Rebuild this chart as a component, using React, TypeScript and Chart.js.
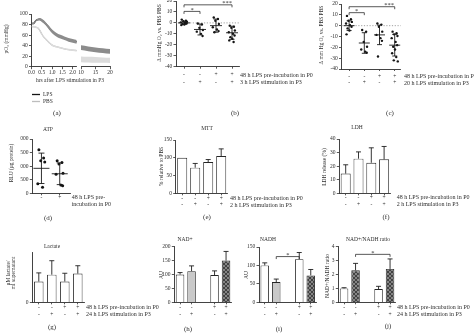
import React, { useEffect, useRef } from "react";
import { Chart, registerables } from "chart.js";

Chart.register(...registerables);

const W = 474;
const H = 334;
const FONT = '"Liberation Serif", "DejaVu Serif", serif';
const INK = "#2e2e2e";
Chart.defaults.font.family = FONT;
Chart.defaults.color = INK;

// ---------------- data ----------------
// (a) pO2 course
const A_T_EARLY = [0, 0.1, 0.2, 0.3, 0.4, 0.5, 0.6, 0.7, 0.85, 1.0, 1.2, 1.4, 1.6, 1.8, 2.0, 2.2];
const A_LPS_EARLY = [82, 82, 87, 89.5, 90, 88, 85, 81, 74, 67, 61, 57, 54, 51, 49, 47];
const A_LPS_EARLY_SD = [1.5, 1.5, 1.5, 2, 2.5, 3, 3, 3, 3.5, 3.5, 3.5, 3.5, 3.5, 3.5, 3.5, 3.5];
const A_PBS_EARLY = [76, 76, 75, 74, 69, 62, 56, 52, 46, 41, 38, 36, 34, 32.5, 31.5, 30.5];
const A_PBS_EARLY_SD = [1.5, 1.5, 1.5, 1.5, 1.5, 1.5, 1.5, 1.5, 1.5, 1.5, 1.5, 1.5, 1.5, 1.5, 1.5, 1.5];
const A_T_LATE = [10, 12.5, 15, 17.5, 20];
const A_LPS_LATE = [36, 34, 32, 30.5, 29];
const A_LPS_LATE_SD = [4.5, 4.5, 4.5, 4.5, 4.5];
const A_PBS_LATE = [14, 13.5, 13, 12.5, 12];
const A_PBS_LATE_SD = [5.5, 5.5, 5.5, 5, 5];
const A_X_TICKS_EARLY = [0, 0.5, 1, 1.5, 2];
const A_X_TICKS_LATE = [10, 15, 20];

// (b) 3 h stimulation
const B_G1 = [3, 2, 1.5, 1, 0.5, 0, -0.5, -1, -1.5, -2];
const B_G2 = [-0.5, -1.5, -4.5, -6.5, -8, -10, -12];
const B_G3 = [5, 3.5, 2, -1, -4, -6, -7.5, -8.5];
const B_G4 = [-2.5, -3.5, -4.5, -7, -8.5, -10, -11.5, -13, -14.5, -16, -17.5];
const B_MEAN = [0, -6, -2.5, -9];
const B_SD = [1.5, 5, 6, 6];

// (c) 20 h stimulation
const C_G1 = [9, 6, 4.5, 3.5, 2, 0.5, -1, -2.5, -4.5, -8];
const C_G2 = [-4, -5.5, -15, -19.5, -22, -24, -25];
const C_G3 = [2, 1, -1, -5.5, -8.5, -11.5, -14, -28.5];
const C_G4 = [-5.5, -7, -8, -9.5, -11.5, -15, -18, -19.5, -22, -25.5, -29, -32, -33];
const C_MEAN = [0, -16, -8.5, -18];
const C_SD = [4.5, 9.5, 9, 10];

// (d) ATP
const D_G1 = [1600, 1300, 1200, 1150, 350, 220];
const D_G2 = [1200, 1130, 1080, 740, 700, 310, 280];
const D_MEAN = [920, 720];
const D_SD = [560, 400];

// (e) MTT, (f) LDH, (g) Lactate
const E_VAL = [100, 72, 88, 105];
const E_SD = [0, 12, 7, 20];
const F_VAL = [14.5, 25.5, 22.5, 25];
const F_SD = [6.5, 5, 11, 9.5];
const G_VAL = [2900, 3850, 2900, 4000];
const G_SD = [1200, 1950, 1150, 1100];

// (h) NAD+, (i) NADH, (j) ratio
const H_VAL = [100, 112, 98, 150];
const H_SD = [7, 19, 15, 33];
const I_VAL = [100, 55, 117, 73];
const I_SD = [7, 8, 18, 16];
const J_VAL = [1.0, 2.3, 0.95, 2.4];
const J_SD = [0.05, 0.5, 0.2, 0.72];

// significance brackets (group indices, value level, label)
const B_BRACKETS = [
  { a: 0, b: 1, v: 10.5, label: "*" },
  { a: 0, b: 3, v: 16.5, label: "***", at: 0.9 },
];
const C_BRACKETS = [
  { a: 0, b: 1, v: 12, label: "*" },
  { a: 0, b: 3, v: 17.5, label: "***", at: 0.88 },
];
const I_BRACKETS = [{ a: 1, b: 2, v: 124, label: "*" }];
const J_BRACKETS = [{ a: 1, b: 3, v: 3.45, label: "*" }];

const PRE = ["-", "-", "+", "+"];
const STIM = ["-", "+", "-", "+"];
const ROW_PRE = "48 h LPS pre-incubation in P0";

const JITTER = [-0.14, 0.12, -0.04, 0.18, -0.2, 0.06, 0.16, -0.1, 0.02, -0.17, 0.1, -0.06, 0.2];

// ---------------- helpers ----------------
type Rect = { x0: number; y0: number; x1: number; y1: number };
type TextItem = {
  s: string; x: number; y: number; size?: number; align?: CanvasTextAlign;
  rot?: boolean; base?: CanvasTextBaseline; color?: string;
};
type Bracket = { a: number; b: number; v: number; label: string; at?: number };

function txt(ctx: CanvasRenderingContext2D, t: TextItem) {
  ctx.save();
  ctx.font = `${t.size ?? 5.5}px ${FONT}`;
  ctx.fillStyle = t.color ?? INK;
  ctx.textAlign = t.align ?? "center";
  ctx.textBaseline = t.base ?? "middle";
  ctx.translate(t.x, t.y);
  if (t.rot) ctx.rotate(-Math.PI / 2);
  ctx.fillText(t.s, 0, 0);
  ctx.restore();
}

function seg(ctx: CanvasRenderingContext2D, x1: number, y1: number, x2: number, y2: number, color = INK, w = 0.85) {
  ctx.save();
  ctx.strokeStyle = color;
  ctx.lineWidth = w;
  ctx.beginPath();
  ctx.moveTo(x1, y1);
  ctx.lineTo(x2, y2);
  ctx.stroke();
  ctx.restore();
}

function drawBracket(ctx: CanvasRenderingContext2D, xa: number, xb: number, y: number, label: string, at = 0.5) {
  ctx.save();
  ctx.strokeStyle = INK;
  ctx.lineWidth = 0.8;
  ctx.beginPath();
  ctx.moveTo(xa, y + 2.5);
  ctx.lineTo(xa, y);
  ctx.lineTo(xb, y);
  ctx.lineTo(xb, y + 2.5);
  ctx.stroke();
  ctx.restore();
  txt(ctx, { s: label, x: xa + (xb - xa) * at, y: y + 0.2, size: 6.5, base: "alphabetic" });
}

function drawSigns(ctx: CanvasRenderingContext2D, xs: number[], rows: string[][], ys: number[]) {
  rows.forEach((row, r) =>
    row.forEach((s, i) => {
      if (s) txt(ctx, { s, x: xs[i], y: ys[r], size: 5.5 });
    })
  );
}

function zeroPad(s: any) {
  s.paddingTop = 0;
  s.paddingBottom = 0;
  s.paddingLeft = 0;
  s.paddingRight = 0;
}

function baseOptions(r: Rect, yW: number, xH: number, scales: any) {
  return {
    animation: false,
    responsive: false,
    maintainAspectRatio: false,
    events: [],
    layout: {
      autoPadding: false,
      padding: { left: r.x0 - yW, top: r.y0, right: W - r.x1, bottom: H - r.y1 - xH },
    },
    plugins: { legend: { display: false }, tooltip: { enabled: false }, title: { display: false } },
    scales,
  };
}

function yAxis(min: number, max: number, step: number, yW: number) {
  return {
    type: "linear",
    position: "left",
    min,
    max,
    afterFit: (s: any) => {
      s.width = yW;
      zeroPad(s);
    },
    afterBuildTicks: (s: any) => {
      s.ticks = s.ticks.filter((t: any) => Math.abs(t.value / step - Math.round(t.value / step)) < 1e-6);
    },
    ticks: {
      stepSize: step,
      autoSkip: false,
      padding: 1.2,
      color: INK,
      font: { family: FONT, size: 5.5 },
      callback: (v: any) => String(v),
    },
    grid: { drawOnChartArea: false, drawTicks: true, tickLength: 2.5, color: INK, lineWidth: 0.8 },
    border: { display: true, color: INK, width: 0.9 },
  };
}

function xLinearGroups(min: number, max: number, xH: number, at: number[]) {
  return {
    type: "linear",
    position: "bottom",
    min,
    max,
    afterFit: (s: any) => {
      s.height = xH;
      zeroPad(s);
    },
    afterBuildTicks: (s: any) => {
      s.ticks = at.map((v) => ({ value: v }));
    },
    ticks: { display: false },
    grid: { drawOnChartArea: false, drawTicks: true, tickLength: 2, color: INK, lineWidth: 0.8 },
    border: { display: true, color: INK, width: 0.9 },
  };
}

function xCats(xH: number, skip: number[]) {
  return {
    type: "category",
    position: "bottom",
    offset: true,
    afterFit: (s: any) => {
      s.height = xH;
      zeroPad(s);
    },
    afterBuildTicks: (s: any) => {
      s.ticks = s.ticks.filter((t: any) => !skip.includes(t.value));
    },
    ticks: { display: false },
    grid: { offset: false, drawOnChartArea: false, drawTicks: true, tickLength: 2, color: INK, lineWidth: 0.8 },
    border: { display: true, color: INK, width: 0.9 },
  };
}

function hatchPattern(): CanvasPattern | string {
  const c = document.createElement("canvas");
  c.width = 4;
  c.height = 4;
  const g = c.getContext("2d");
  if (!g) return "#777";
  g.fillStyle = "#858585";
  g.fillRect(0, 0, 4, 4);
  g.strokeStyle = "#3a3a3a";
  g.lineWidth = 0.9;
  g.beginPath();
  g.moveTo(0, 0);
  g.lineTo(4, 4);
  g.moveTo(4, 0);
  g.lineTo(0, 4);
  g.stroke();
  return g.createPattern(c, "repeat") || "#777";
}

// ---------------- panel (a) ----------------
function aDatasets(t: number[], lps: number[], lpsSd: number[], pbs: number[], pbsSd: number[]) {
  const pts = (m: number[], sd: number[] | null, s: number) =>
    t.map((x, i) => ({ x, y: m[i] + (sd ? s * sd[i] : 0) }));
  const common = { pointRadius: 0, cubicInterpolationMode: "monotone", tension: 0.3 };
  const none = "rgba(0,0,0,0)";
  return [
    { ...common, data: pts(pbs, pbsSd, 1), borderWidth: 0, borderColor: none, fill: false },
    { ...common, data: pts(pbs, pbsSd, -1), borderWidth: 0, borderColor: none, fill: "-1", backgroundColor: "#dcdcdc" },
    { ...common, data: pts(pbs, null, 0), borderColor: "#bdbdbd", borderWidth: 1.3, fill: false },
    { ...common, data: pts(lps, lpsSd, 1), borderWidth: 0, borderColor: none, fill: false },
    { ...common, data: pts(lps, lpsSd, -1), borderWidth: 0, borderColor: none, fill: "-1", backgroundColor: "#8c8c8c" },
    { ...common, data: pts(lps, null, 0), borderColor: "#141414", borderWidth: 1.3, fill: false },
  ];
}

function aXAxis(min: number, max: number, at: number[], fmt: (v: number) => string) {
  return {
    type: "linear",
    position: "bottom",
    min,
    max,
    afterFit: (s: any) => {
      s.height = 10;
      zeroPad(s);
    },
    afterBuildTicks: (s: any) => {
      s.ticks = at.map((v) => ({ value: v }));
    },
    ticks: {
      autoSkip: false,
      maxRotation: 0,
      minRotation: 0,
      padding: 0.5,
      color: INK,
      font: { family: FONT, size: 5.5 },
      callback: (v: any) => fmt(Number(v)),
    },
    grid: { drawOnChartArea: false, drawTicks: true, tickLength: 2.5, color: INK, lineWidth: 0.8 },
    border: { display: true, color: INK, width: 0.9 },
  };
}

function makeA1() {
  const r = { x0: 31.5, y0: 14, x1: 76.8, y1: 66.7 };
  return {
    type: "line",
    data: { datasets: aDatasets(A_T_EARLY, A_LPS_EARLY, A_LPS_EARLY_SD, A_PBS_EARLY, A_PBS_EARLY_SD) },
    options: baseOptions(r, 12, 10, {
      x: aXAxis(0, 2.2, A_X_TICKS_EARLY, (v) => v.toFixed(1)),
      y: yAxis(0, 100, 20, 12),
    }),
    plugins: [
      {
        id: "decoA",
        afterDraw(chart: any) {
          const ctx = chart.ctx;
          txt(ctx, { s: "pO₂ (mmHg)", x: 7, y: 39, rot: true });
          txt(ctx, { s: "hrs after LPS stimulation in P3", x: 70, y: 81 });
          seg(ctx, 32, 94.5, 40, 94.5, "#141414", 1.3);
          seg(ctx, 32, 101.5, 40, 101.5, "#bdbdbd", 1.3);
          txt(ctx, { s: "LPS", x: 43, y: 94.5, align: "left" });
          txt(ctx, { s: "PBS", x: 43, y: 101.5, align: "left" });
          txt(ctx, { s: "(a)", x: 57, y: 113, size: 7 });
        },
      },
    ],
  };
}

function makeA2() {
  const r = { x0: 81, y0: 14, x1: 110, y1: 66.7 };
  return {
    type: "line",
    data: { datasets: aDatasets(A_T_LATE, A_LPS_LATE, A_LPS_LATE_SD, A_PBS_LATE, A_PBS_LATE_SD) },
    options: baseOptions(r, 0, 10, {
      x: aXAxis(10, 20, A_X_TICKS_LATE, (v) => String(v)),
      y: { type: "linear", display: false, min: 0, max: 100 },
    }),
  };
}

// ---------------- scatter panels ----------------
type ScatterSpec = {
  rect: Rect; y: [number, number, number]; xMax: number;
  groups: number[][]; means: number[]; sds: number[];
  radius: number; meanHalf: number; capHalf: number; zero?: boolean;
  brackets?: Bracket[]; signs: string[][]; signYs: number[]; texts: TextItem[];
};

function makeScatter(sp: ScatterSpec) {
  return () => {
    const pts = sp.groups.flatMap((g, gi) =>
      g.map((v, k) => ({ x: gi + 1 + JITTER[k % JITTER.length], y: v }))
    );
    const cats = sp.groups.map((_, i) => i + 1);
    return {
      type: "scatter",
      data: {
        datasets: [
          { data: pts, pointRadius: sp.radius, pointBackgroundColor: "#141414", pointBorderWidth: 0, pointBorderColor: "#141414" },
        ],
      },
      options: baseOptions(sp.rect, 12, 3, {
        x: xLinearGroups(0.5, sp.xMax, 3, cats),
        y: yAxis(sp.y[0], sp.y[1], sp.y[2], 12),
      }),
      plugins: [
        {
          id: "decoS",
          beforeDatasetsDraw(chart: any) {
            if (!sp.zero) return;
            const { ctx, chartArea: ca, scales } = chart;
            const y0 = scales.y.getPixelForValue(0);
            ctx.save();
            ctx.setLineDash([1.2, 1.6]);
            ctx.strokeStyle = "#8a8a8a";
            ctx.lineWidth = 0.8;
            ctx.beginPath();
            ctx.moveTo(ca.left, y0);
            ctx.lineTo(ca.right, y0);
            ctx.stroke();
            ctx.restore();
          },
          afterDraw(chart: any) {
            const { ctx, scales } = chart;
            const xs = cats.map((c) => scales.x.getPixelForValue(c));
            sp.means.forEach((m, i) => {
              const x = xs[i];
              const ym = scales.y.getPixelForValue(m);
              const yh = scales.y.getPixelForValue(m + sp.sds[i]);
              const yl = scales.y.getPixelForValue(m - sp.sds[i]);
              seg(ctx, x - sp.meanHalf, ym, x + sp.meanHalf, ym, "#1a1a1a", 0.9);
              seg(ctx, x, yh, x, yl, "#1a1a1a", 0.9);
              seg(ctx, x - sp.capHalf, yh, x + sp.capHalf, yh, "#1a1a1a", 0.9);
              seg(ctx, x - sp.capHalf, yl, x + sp.capHalf, yl, "#1a1a1a", 0.9);
            });
            (sp.brackets || []).forEach((b) =>
              drawBracket(ctx, xs[b.a], xs[b.b], scales.y.getPixelForValue(b.v), b.label, b.at)
            );
            drawSigns(ctx, xs, sp.signs, sp.signYs);
            sp.texts.forEach((t) => txt(ctx, t));
          },
        },
      ],
    };
  };
}

const makeB = makeScatter({
  rect: { x0: 176, y0: 1, x1: 239.2, y1: 66.7 },
  y: [-40, 20, 10],
  xMax: 4.45,
  groups: [B_G1, B_G2, B_G3, B_G4],
  means: B_MEAN,
  sds: B_SD,
  radius: 1.2,
  meanHalf: 6,
  capHalf: 2.5,
  zero: true,
  brackets: B_BRACKETS,
  signs: [PRE, STIM],
  signYs: [75, 82.5],
  texts: [
    { s: "Δ mmHg O₂ vs. PBS PBS", x: 160, y: 33, rot: true },
    { s: ROW_PRE, x: 240, y: 75, align: "left", size: 6 },
    { s: "3 h LPS stimulation in P3", x: 240, y: 82.5, align: "left", size: 6 },
    { s: "(b)", x: 235, y: 113, size: 7 },
  ],
});

const makeC = makeScatter({
  rect: { x0: 341.5, y0: 4, x1: 400.8, y1: 69 },
  y: [-40, 20, 10],
  xMax: 4.4,
  groups: [C_G1, C_G2, C_G3, C_G4],
  means: C_MEAN,
  sds: C_SD,
  radius: 1.2,
  meanHalf: 5.5,
  capHalf: 2.5,
  zero: true,
  brackets: C_BRACKETS,
  signs: [PRE, STIM],
  signYs: [76.5, 83],
  texts: [
    { s: "Δ mm Hg O₂ vs. PBS PBS", x: 322, y: 35, rot: true },
    { s: ROW_PRE, x: 404, y: 76.5, align: "left", size: 6 },
    { s: "20 h LPS stimulation in P3", x: 404, y: 83, align: "left", size: 6 },
    { s: "(c)", x: 390, y: 113, size: 7 },
  ],
});

const makeD = makeScatter({
  rect: { x0: 32.3, y0: 139, x1: 70.7, y1: 193.3 },
  y: [0, 2000, 500],
  xMax: 2.6,
  groups: [D_G1, D_G2],
  means: D_MEAN,
  sds: D_SD,
  radius: 1.5,
  meanHalf: 8,
  capHalf: 3,
  signs: [["-", "+"]],
  signYs: [198],
  texts: [
    { s: "ATP", x: 48, y: 130 },
    { s: "RLU (μg protein)", x: 11.7, y: 163, rot: true },
    { s: "48 h LPS pre-", x: 71.7, y: 197.5, align: "left", size: 6 },
    { s: "incubation in P0", x: 71.7, y: 204.2, align: "left", size: 6 },
    { s: "(d)", x: 48, y: 218, size: 7 },
  ],
});

// ---------------- bar panels ----------------
type FillKey = "white" | "gray" | "hatch";
type BarSpec = {
  rect: Rect; y: [number, number, number];
  values: number[]; sds: number[]; fills: FillKey[];
  gap?: boolean; catPct: number; brackets?: Bracket[];
  signs: string[][]; signYs: number[]; texts: TextItem[];
};

function makeBars(sp: BarSpec) {
  return () => {
    const hatch = hatchPattern();
    const expand = <T,>(arr: T[], filler: T): T[] => (sp.gap ? [...arr.slice(0, 2), filler, ...arr.slice(2)] : arr.slice());
    const idx = (i: number) => (sp.gap && i >= 2 ? i + 1 : i);
    const vals = expand<number | null>(sp.values, null);
    const sds = expand<number | null>(sp.sds, null);
    const colorOf = (k: FillKey | null) => (k === "gray" ? "#c9c9c9" : k === "hatch" ? hatch : "#ffffff");
    const fills = expand<FillKey | null>(sp.fills, null).map(colorOf);
    const signs = sp.signs.map((row) => expand(row, ""));
    const skip = sp.gap ? [2] : [];
    return {
      type: "bar",
      data: {
        labels: vals.map((_, i) => String(i)),
        datasets: [
          {
            data: vals,
            backgroundColor: fills,
            borderColor: "#262626",
            borderWidth: 0.9,
            categoryPercentage: sp.catPct,
            barPercentage: 1,
          },
        ],
      },
      options: baseOptions(sp.rect, 12, 3, {
        x: xCats(3, skip),
        y: yAxis(sp.y[0], sp.y[1], sp.y[2], 12),
      }),
      plugins: [
        {
          id: "decoB",
          afterDraw(chart: any) {
            const { ctx, scales } = chart;
            const xs = vals.map((_, i) => scales.x.getPixelForValue(i));
            vals.forEach((v, i) => {
              const sd = sds[i];
              if (v == null || sd == null || sd <= 0) return;
              const yt = scales.y.getPixelForValue(v);
              const ye = scales.y.getPixelForValue(v + sd);
              seg(ctx, xs[i], yt, xs[i], ye, "#1f1f1f", 0.9);
              seg(ctx, xs[i] - 2.5, ye, xs[i] + 2.5, ye, "#1f1f1f", 0.9);
            });
            (sp.brackets || []).forEach((b) =>
              drawBracket(ctx, xs[idx(b.a)], xs[idx(b.b)], scales.y.getPixelForValue(b.v), b.label, b.at)
            );
            drawSigns(ctx, xs, signs, sp.signYs);
            sp.texts.forEach((t) => txt(ctx, t));
          },
        },
      ],
    };
  };
}

const makeE = makeBars({
  rect: { x0: 175.7, y0: 140, x1: 227.7, y1: 193.3 },
  y: [0, 150, 50],
  values: E_VAL,
  sds: E_SD,
  fills: ["white", "white", "white", "white"],
  catPct: 0.77,
  signs: [PRE, STIM],
  signYs: [198.3, 205],
  texts: [
    { s: "MTT", x: 207, y: 129 },
    { s: "% relative to PBS", x: 161.7, y: 166.5, rot: true },
    { s: ROW_PRE, x: 230, y: 198.3, align: "left", size: 6 },
    { s: "2 h LPS stimulation in P3", x: 230, y: 205, align: "left", size: 6 },
    { s: "(e)", x: 207, y: 217, size: 7 },
  ],
});

const makeF = makeBars({
  rect: { x0: 339.3, y0: 139, x1: 390.5, y1: 193.3 },
  y: [0, 40, 10],
  values: F_VAL,
  sds: F_SD,
  fills: ["white", "white", "white", "white"],
  catPct: 0.78,
  signs: [PRE, STIM],
  signYs: [197.5, 204.2],
  texts: [
    { s: "LDH", x: 357, y: 128 },
    { s: "LDH release (%)", x: 325, y: 167, rot: true },
    { s: ROW_PRE, x: 396.7, y: 197.5, align: "left", size: 6 },
    { s: "2 h LPS stimulation in P3", x: 396.7, y: 204.2, align: "left", size: 6 },
    { s: "(f)", x: 386, y: 217, size: 7 },
  ],
});

const makeG = makeBars({
  rect: { x0: 32.3, y0: 252.1, x1: 84.3, y1: 302.3 },
  y: [0, 7000, 2000],
  values: G_VAL,
  sds: G_SD,
  fills: ["white", "white", "white", "white"],
  catPct: 0.73,
  signs: [PRE, STIM],
  signYs: [307.7, 314.3],
  texts: [
    { s: "Lactate", x: 52, y: 247 },
    { s: "μM lactate/", x: 8.3, y: 273, rot: true },
    { s: "ml supernatant", x: 14, y: 273, rot: true },
    { s: ROW_PRE, x: 86, y: 307.7, align: "left", size: 6 },
    { s: "24 h LPS stimulation in P3", x: 86, y: 314.3, align: "left", size: 6 },
    { s: "(g)", x: 52, y: 327, size: 7 },
  ],
});

const makeH = makeBars({
  rect: { x0: 174.3, y0: 246.7, x1: 231.8, y1: 302.3 },
  y: [0, 200, 50],
  values: H_VAL,
  sds: H_SD,
  fills: ["white", "gray", "white", "hatch"],
  gap: true,
  catPct: 0.74,
  signs: [PRE, STIM],
  signYs: [307.7, 314.3],
  texts: [
    { s: "NAD+", x: 185, y: 240 },
    { s: "AU", x: 161.7, y: 275, rot: true },
    { s: "(h)", x: 188, y: 329, size: 7 },
  ],
});

const makeI = makeBars({
  rect: { x0: 259, y0: 247, x1: 316.5, y1: 302.3 },
  y: [0, 150, 50],
  values: I_VAL,
  sds: I_SD,
  fills: ["white", "gray", "white", "hatch"],
  gap: true,
  catPct: 0.74,
  brackets: I_BRACKETS,
  signs: [PRE, STIM],
  signYs: [307.7, 314.3],
  texts: [
    { s: "NADH", x: 268, y: 240 },
    { s: "AU", x: 246.7, y: 275, rot: true },
    { s: "(i)", x: 279, y: 329, size: 7 },
  ],
});

const makeJ = makeBars({
  rect: { x0: 338.3, y0: 246.7, x1: 395.8, y1: 302.3 },
  y: [0, 4, 1],
  values: J_VAL,
  sds: J_SD,
  fills: ["white", "hatch", "white", "hatch"],
  gap: true,
  catPct: 0.74,
  brackets: J_BRACKETS,
  signs: [PRE, STIM],
  signYs: [307.7, 314.3],
  texts: [
    { s: "NAD+/NADH ratio", x: 368, y: 240 },
    { s: "NAD+/NADH ratio", x: 328, y: 276, rot: true },
    { s: ROW_PRE, x: 397, y: 307.7, align: "left", size: 6 },
    { s: "24 h LPS stimulation in P3", x: 397, y: 314.3, align: "left", size: 6 },
    { s: "(j)", x: 388, y: 326, size: 7 },
  ],
});

const MAKERS: Array<() => any> = [makeA1, makeA2, makeB, makeC, makeD, makeE, makeF, makeG, makeH, makeI, makeJ];

function ChartCanvas({ make }: { make: () => any }) {
  const ref = useRef<HTMLCanvasElement | null>(null);
  useEffect(() => {
    if (!ref.current) return;
    const chart = new Chart(ref.current, make());
    return () => chart.destroy();
  }, [make]);
  return (
    <canvas
      ref={ref}
      width={W}
      height={H}
      style={{ position: "absolute", left: 0, top: 0, width: W, height: H }}
    />
  );
}

export default function App() {
  return (
    <div
      style={{
        position: "fixed",
        left: 0,
        top: 0,
        width: W,
        height: H,
        background: "#ffffff",
        overflow: "hidden",
      }}
    >
      {MAKERS.map((m, i) => (
        <ChartCanvas key={i} make={m} />
      ))}
    </div>
  );
}
